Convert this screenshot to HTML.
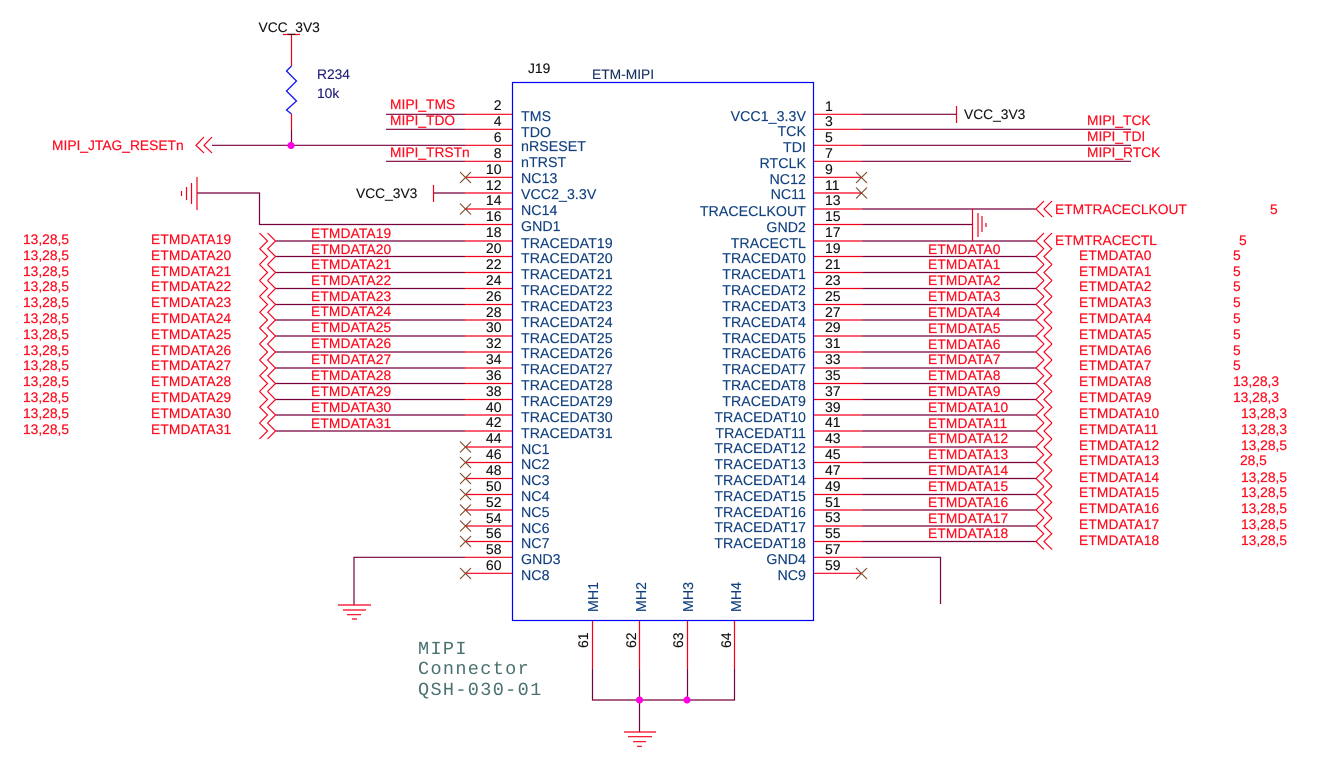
<!DOCTYPE html>
<html><head><meta charset="utf-8"><style>
html,body{margin:0;padding:0;background:#fff}
svg{display:block}
text{font-family:"Liberation Sans",Arial,sans-serif;font-size:13.8px;text-rendering:geometricPrecision}
.r text{fill:#ff0a1e;stroke:#ff0a1e;stroke-width:.18px}
.d text{letter-spacing:.12px}
.k text{fill:#111;stroke:#111;stroke-width:.12px}
.b text{fill:#12417f;stroke:#12417f;stroke-width:.15px;font-size:14.2px;letter-spacing:.05px}
.n text{fill:#111;stroke:#111;stroke-width:.12px;font-size:14px}
.m text{font-family:"Liberation Mono",monospace;font-size:18.5px;letter-spacing:1.35px;fill:#4a7070}
.e{text-anchor:end}
</style></head><body>
<svg xmlns="http://www.w3.org/2000/svg" width="1328" height="765" viewBox="0 0 1328 765">
<defs>
<path id="cr" d="M1036 0m8 -8l-8 8l8 8m8 -16l-8 8l8 8" fill="none" stroke="#f8001c" stroke-width="1.2"/>
<path id="cl" d="M259.500 -8l8 8l-8 8m8 -16l8 8l-8 8" fill="none" stroke="#f8001c" stroke-width="1.2"/>
</defs>
<rect x="512.500" y="82.500" width="301" height="538" fill="none" stroke="#0000ff" stroke-width="1.2"/>

<!-- purple wires -->
<path fill="none" stroke="#78003c" stroke-width="1.2" d="
M386 114.300H465M386 129.300H465M212 145.300H465M386 161.300H465M434 193H465
M197 193H259.500V224.500H465
M275 241H465M275 256.500H465M275 272.500H465M275 288.500H465M275 304.500H465M275 320H465M275 336H465M275 352H465M275 368H465M275 383.500H465M275 399.500H465M275 415H465M275 431H465
M465 557.300H354V605
M862 114.300H956M862 129.300H1131M862 145.300H1131M862 161.300H1131
M862 209H1036M862 224.500H972M862 241H1036M862 256.500H1036M862 272.500H1036M862 288.500H1036M862 304.500H1036M862 320H1036M862 336H1036M862 352H1036M862 368H1036M862 383.500H1036M862 399.500H1036M862 415H1036M862 431H1036M862 447H1036M862 462.500H1036M862 478.500H1036M862 494.500H1036M862 510H1036M862 526H1036M862 541.500H1036
M862 557.300H940.500V604
M592.500 669V700H734.500V669M639.500 669V732M687.500 669V700
M291.500 130V145.300"/>

<!-- red wires -->
<path fill="none" stroke="#f4001c" stroke-width="1.2" d="
M465 114.300H512M465 129.300H512M465 145.300H512M465 161.300H512M465 177.300H512M465 193H512M465 209H512M465 224.500H512M465 241H512M465 256.500H512M465 272.500H512M465 288.500H512M465 304.500H512M465 320H512M465 336H512M465 352H512M465 368H512M465 383.500H512M465 399.500H512M465 415H512M465 431H512M465 447H512M465 462.500H512M465 478.500H512M465 494.500H512M465 510H512M465 526H512M465 541.500H512M465 557.300H512M465 573.300H512
M814 114.300H862M814 129.300H862M814 145.300H862M814 161.300H862M814 177.300H862M814 193H862M814 209H862M814 224.500H862M814 241H862M814 256.500H862M814 272.500H862M814 288.500H862M814 304.500H862M814 320H862M814 336H862M814 352H862M814 368H862M814 383.500H862M814 399.500H862M814 415H862M814 431H862M814 447H862M814 462.500H862M814 478.500H862M814 494.500H862M814 510H862M814 526H862M814 541.500H862M814 557.300H862M814 573.300H862
M592.500 621V669M639.500 621V669M687.500 621V669M734.500 621V669
M291.500 34.500V66M291.500 114V130M283 34.500H300
M433.500 185V202M956.500 106V123
M972.500 209V241
M978 213V237M982 216V232M986 223V227
M197 177V210M191.500 183V204M186.500 187V200M181.500 191V196
M338 605H371M343 610H366M347 614.700H361M352 619H357
M624 732H656M628 736.700H652M633 741.700H646M637 746.300H642"/>

<!-- resistor -->
<path fill="none" stroke="#1414f0" stroke-width="1.3" d="M291.500 66L286.500 71L296.500 81L286.500 91L296.500 101L286.500 110L291.500 114"/>

<!-- left chevrons -->
<path fill="none" stroke="#f8001c" stroke-width="1.2" d="M212 137L204 145.300L212 153M204 137L196 145.300L204 153M1052 201L1044 209L1052 217M1044 201L1036 209L1044 217"/>
<use href="#cl" y="241"/><use href="#cl" y="256.500"/><use href="#cl" y="272.500"/><use href="#cl" y="288.500"/><use href="#cl" y="304.500"/><use href="#cl" y="320"/><use href="#cl" y="336"/><use href="#cl" y="352"/><use href="#cl" y="368"/><use href="#cl" y="383.500"/><use href="#cl" y="399.500"/><use href="#cl" y="415"/><use href="#cl" y="431"/>
<!-- right chevrons -->
<use href="#cr" y="241"/><use href="#cr" y="256.500"/><use href="#cr" y="272.500"/><use href="#cr" y="288.500"/><use href="#cr" y="304.500"/><use href="#cr" y="320"/><use href="#cr" y="336"/><use href="#cr" y="352"/><use href="#cr" y="368"/><use href="#cr" y="383.500"/><use href="#cr" y="399.500"/><use href="#cr" y="415"/><use href="#cr" y="431"/><use href="#cr" y="447"/><use href="#cr" y="462.500"/><use href="#cr" y="478.500"/><use href="#cr" y="494.500"/><use href="#cr" y="510"/><use href="#cr" y="526"/><use href="#cr" y="541.500"/>

<!-- NC crosses -->
<path fill="none" stroke="#7d4a2a" stroke-width="1.1" d="
M460 172L471 183M471 172L460 183M460 203.500L471 214.500M471 203.500L460 214.500
M460 441.500L471 452.500M471 441.500L460 452.500M460 457L471 468M471 457L460 468M460 473L471 484M471 473L460 484M460 489L471 500M471 489L460 500M460 504.500L471 515.500M471 504.500L460 515.500M460 520.500L471 531.500M471 520.500L460 531.500M460 536L471 547M471 536L460 547M460 568L471 579M471 568L460 579
M856 172L867 183M867 172L856 183M856 187.500L867 198.500M867 187.500L856 198.500M856 568L867 579M867 568L856 579"/>

<!-- junctions -->
<circle cx="291" cy="145.500" r="3.600" fill="#ff00e6"/>
<circle cx="639.500" cy="700" r="3.600" fill="#ff00e6"/>
<circle cx="687" cy="700" r="3.600" fill="#ff00e6"/>

<g class="k">
<text x="258.500" y="32">VCC_3V3</text>
<text x="356" y="198">VCC_3V3</text>
<text x="964" y="119">VCC_3V3</text>
<text x="528" y="73">J19</text>
<text x="592" y="79" style="fill:#14305f;stroke:#14305f">ETM-MIPI</text>
<text x="317" y="79" style="fill:#1d1d78;stroke:#1d1d78">R234</text>
<text x="317" y="98" style="fill:#1d1d78;stroke:#1d1d78">10k</text>
</g>

<g class="r">
<text x="390" y="109">MIPI_TMS</text>
<text x="390" y="125">MIPI_TDO</text>
<text x="390" y="157">MIPI_TRSTn</text>
<text x="52" y="150">MIPI_JTAG_RESETn</text>
<text x="1087" y="125">MIPI_TCK</text>
<text x="1087" y="141">MIPI_TDI</text>
<text x="1087" y="157">MIPI_RTCK</text>
<text x="1055" y="214">ETMTRACECLKOUT</text>
<text x="1270" y="214">5</text>
<text x="1055" y="245">ETMTRACECTL</text>
<text x="1239" y="245">5</text>

<text x="23" y="244">13,28,5</text><text x="23" y="260">13,28,5</text><text x="23" y="276">13,28,5</text><text x="23" y="291">13,28,5</text><text x="23" y="307">13,28,5</text><text x="23" y="323">13,28,5</text><text x="23" y="339">13,28,5</text><text x="23" y="355">13,28,5</text><text x="23" y="370">13,28,5</text><text x="23" y="386">13,28,5</text><text x="23" y="402">13,28,5</text><text x="23" y="418">13,28,5</text><text x="23" y="434">13,28,5</text>

<text x="1233" y="260">5</text><text x="1233" y="276">5</text><text x="1233" y="291">5</text><text x="1233" y="307">5</text><text x="1233" y="323">5</text><text x="1233" y="339">5</text><text x="1233" y="355">5</text><text x="1233" y="370">5</text><text x="1233" y="386">13,28,3</text><text x="1233" y="402">13,28,3</text><text x="1241" y="418">13,28,3</text><text x="1241" y="434">13,28,3</text><text x="1241" y="450">13,28,5</text><text x="1240" y="465">28,5</text><text x="1241" y="482">13,28,5</text><text x="1241" y="497">13,28,5</text><text x="1241" y="513">13,28,5</text><text x="1241" y="529">13,28,5</text><text x="1241" y="545">13,28,5</text>
</g>

<g class="r d">
<text x="311" y="238">ETMDATA19</text><text x="311" y="254">ETMDATA20</text><text x="311" y="269">ETMDATA21</text><text x="311" y="285">ETMDATA22</text><text x="311" y="301">ETMDATA23</text><text x="311" y="316">ETMDATA24</text><text x="311" y="332">ETMDATA25</text><text x="311" y="348">ETMDATA26</text><text x="311" y="364">ETMDATA27</text><text x="311" y="380">ETMDATA28</text><text x="311" y="396">ETMDATA29</text><text x="311" y="412">ETMDATA30</text><text x="311" y="428">ETMDATA31</text>

<text x="151" y="244">ETMDATA19</text><text x="151" y="260">ETMDATA20</text><text x="151" y="276">ETMDATA21</text><text x="151" y="291">ETMDATA22</text><text x="151" y="307">ETMDATA23</text><text x="151" y="323">ETMDATA24</text><text x="151" y="339">ETMDATA25</text><text x="151" y="355">ETMDATA26</text><text x="151" y="370">ETMDATA27</text><text x="151" y="386">ETMDATA28</text><text x="151" y="402">ETMDATA29</text><text x="151" y="418">ETMDATA30</text><text x="151" y="434">ETMDATA31</text>

<text x="928" y="254">ETMDATA0</text><text x="928" y="269">ETMDATA1</text><text x="928" y="285">ETMDATA2</text><text x="928" y="301">ETMDATA3</text><text x="928" y="317">ETMDATA4</text><text x="928" y="333">ETMDATA5</text><text x="928" y="349">ETMDATA6</text><text x="928" y="364">ETMDATA7</text><text x="928" y="380">ETMDATA8</text><text x="928" y="396">ETMDATA9</text><text x="928" y="412">ETMDATA10</text><text x="928" y="428">ETMDATA11</text><text x="928" y="443">ETMDATA12</text><text x="928" y="459">ETMDATA13</text><text x="928" y="475">ETMDATA14</text><text x="928" y="491">ETMDATA15</text><text x="928" y="507">ETMDATA16</text><text x="928" y="523">ETMDATA17</text><text x="928" y="538">ETMDATA18</text>

<text x="1079" y="260">ETMDATA0</text><text x="1079" y="276">ETMDATA1</text><text x="1079" y="291">ETMDATA2</text><text x="1079" y="307">ETMDATA3</text><text x="1079" y="323">ETMDATA4</text><text x="1079" y="339">ETMDATA5</text><text x="1079" y="355">ETMDATA6</text><text x="1079" y="370">ETMDATA7</text><text x="1079" y="386">ETMDATA8</text><text x="1079" y="402">ETMDATA9</text><text x="1079" y="418">ETMDATA10</text><text x="1079" y="434">ETMDATA11</text><text x="1079" y="450">ETMDATA12</text><text x="1079" y="465">ETMDATA13</text><text x="1079" y="482">ETMDATA14</text><text x="1079" y="497">ETMDATA15</text><text x="1079" y="513">ETMDATA16</text><text x="1079" y="529">ETMDATA17</text><text x="1079" y="545">ETMDATA18</text>
</g>

<g class="b">
<text x="521" y="121">TMS</text><text x="521" y="137">TDO</text><text x="521" y="151">nRSESET</text><text x="521" y="167">nTRST</text><text x="521" y="183">NC13</text><text x="521" y="199">VCC2_3.3V</text><text x="521" y="215">NC14</text><text x="521" y="231">GND1</text>
<text x="521" y="248">TRACEDAT19</text><text x="521" y="263">TRACEDAT20</text><text x="521" y="279">TRACEDAT21</text><text x="521" y="295">TRACEDAT22</text><text x="521" y="311">TRACEDAT23</text><text x="521" y="327">TRACEDAT24</text><text x="521" y="343">TRACEDAT25</text><text x="521" y="358">TRACEDAT26</text><text x="521" y="374">TRACEDAT27</text><text x="521" y="390">TRACEDAT28</text><text x="521" y="406">TRACEDAT29</text><text x="521" y="422">TRACEDAT30</text><text x="521" y="438">TRACEDAT31</text>
<text x="521" y="454">NC1</text><text x="521" y="469">NC2</text><text x="521" y="485">NC3</text><text x="521" y="501">NC4</text><text x="521" y="517">NC5</text><text x="521" y="533">NC6</text><text x="521" y="548">NC7</text><text x="521" y="564">GND3</text><text x="521" y="580">NC8</text>

<text class="e" x="806" y="121">VCC1_3.3V</text><text class="e" x="806" y="136">TCK</text><text class="e" x="806" y="152">TDI</text><text class="e" x="806" y="168">RTCLK</text><text class="e" x="806" y="184">NC12</text><text class="e" x="806" y="199">NC11</text><text class="e" x="806" y="216">TRACECLKOUT</text><text class="e" x="806" y="232">GND2</text><text class="e" x="806" y="248">TRACECTL</text>
<text class="e" x="806" y="263">TRACEDAT0</text><text class="e" x="806" y="279">TRACEDAT1</text><text class="e" x="806" y="295">TRACEDAT2</text><text class="e" x="806" y="311">TRACEDAT3</text><text class="e" x="806" y="327">TRACEDAT4</text><text class="e" x="806" y="343">TRACEDAT5</text><text class="e" x="806" y="358">TRACEDAT6</text><text class="e" x="806" y="374">TRACEDAT7</text><text class="e" x="806" y="390">TRACEDAT8</text><text class="e" x="806" y="406">TRACEDAT9</text><text class="e" x="806" y="422">TRACEDAT10</text><text class="e" x="806" y="438">TRACEDAT11</text><text class="e" x="806" y="453">TRACEDAT12</text><text class="e" x="806" y="469">TRACEDAT13</text><text class="e" x="806" y="485">TRACEDAT14</text><text class="e" x="806" y="501">TRACEDAT15</text><text class="e" x="806" y="517">TRACEDAT16</text><text class="e" x="806" y="532">TRACEDAT17</text><text class="e" x="806" y="548">TRACEDAT18</text><text class="e" x="806" y="564">GND4</text><text class="e" x="806" y="580">NC9</text>

<text transform="translate(598 612) rotate(-90)">MH1</text>
<text transform="translate(646 612) rotate(-90)">MH2</text>
<text transform="translate(693 612) rotate(-90)">MH3</text>
<text transform="translate(741 612) rotate(-90)">MH4</text>
</g>

<g class="n">
<text class="e" x="501.500" y="110">2</text><text class="e" x="501.500" y="126">4</text><text class="e" x="501.500" y="142">6</text><text class="e" x="501.500" y="158">8</text><text class="e" x="501.500" y="174">10</text><text class="e" x="501.500" y="190">12</text><text class="e" x="501.500" y="205">14</text><text class="e" x="501.500" y="221">16</text><text class="e" x="501.500" y="237">18</text><text class="e" x="501.500" y="253">20</text><text class="e" x="501.500" y="269">22</text><text class="e" x="501.500" y="285">24</text><text class="e" x="501.500" y="301">26</text><text class="e" x="501.500" y="317">28</text><text class="e" x="501.500" y="332">30</text><text class="e" x="501.500" y="348">32</text><text class="e" x="501.500" y="364">34</text><text class="e" x="501.500" y="380">36</text><text class="e" x="501.500" y="396">38</text><text class="e" x="501.500" y="412">40</text><text class="e" x="501.500" y="427">42</text><text class="e" x="501.500" y="443">44</text><text class="e" x="501.500" y="459">46</text><text class="e" x="501.500" y="475">48</text><text class="e" x="501.500" y="491">50</text><text class="e" x="501.500" y="507">52</text><text class="e" x="501.500" y="523">54</text><text class="e" x="501.500" y="538">56</text><text class="e" x="501.500" y="554">58</text><text class="e" x="501.500" y="570">60</text>

<text x="825" y="111">1</text><text x="825" y="126">3</text><text x="825" y="142">5</text><text x="825" y="158">7</text><text x="825" y="174">9</text><text x="825" y="190">11</text><text x="825" y="205">13</text><text x="825" y="221">15</text><text x="825" y="237">17</text><text x="825" y="253">19</text><text x="825" y="269">21</text><text x="825" y="285">23</text><text x="825" y="301">25</text><text x="825" y="317">27</text><text x="825" y="332">29</text><text x="825" y="348">31</text><text x="825" y="364">33</text><text x="825" y="380">35</text><text x="825" y="396">37</text><text x="825" y="412">39</text><text x="825" y="427">41</text><text x="825" y="443">43</text><text x="825" y="459">45</text><text x="825" y="475">47</text><text x="825" y="491">49</text><text x="825" y="507">51</text><text x="825" y="522">53</text><text x="825" y="538">55</text><text x="825" y="554">57</text><text x="825" y="570">59</text>

<text transform="translate(588 648) rotate(-90)">61</text>
<text transform="translate(636 648) rotate(-90)">62</text>
<text transform="translate(683 648) rotate(-90)">63</text>
<text transform="translate(731 648) rotate(-90)">64</text>
</g>

<g class="m">
<text x="418" y="654">MIPI</text>
<text x="418" y="674">Connector</text>
<text x="418" y="695">QSH-030-01</text>
</g>
</svg>
</body></html>
